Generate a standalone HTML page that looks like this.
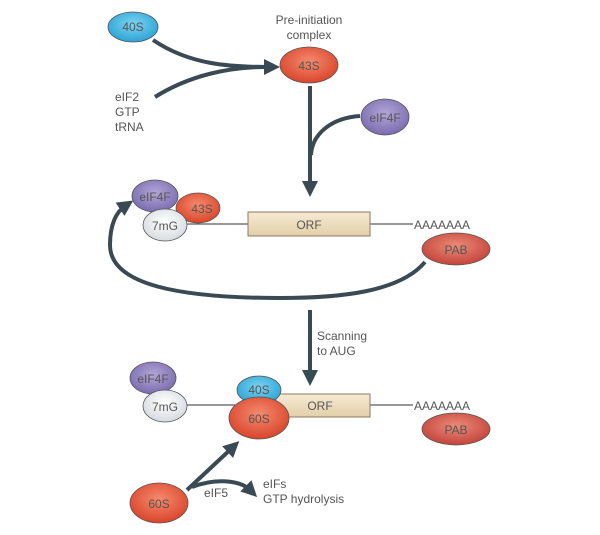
<!DOCTYPE html>
<html><head><style>body{margin:0;background:#fff}svg{display:block}text{font-family:"Liberation Sans",sans-serif;fill:#555;font-size:12px}</style></head>
<body>
<svg width="600" height="535" viewBox="0 0 600 535">
<defs>
<radialGradient id="red" cx="50%" cy="40%" r="60%"><stop offset="0" stop-color="#f58a6e"/><stop offset="1" stop-color="#d9452b"/></radialGradient>
<radialGradient id="blue" cx="50%" cy="40%" r="60%"><stop offset="0" stop-color="#7fd3ef"/><stop offset="1" stop-color="#2aa4d6"/></radialGradient>
<radialGradient id="pur" cx="50%" cy="40%" r="60%"><stop offset="0" stop-color="#b3a6d6"/><stop offset="1" stop-color="#7b6bb0"/></radialGradient>
<radialGradient id="gry" cx="50%" cy="40%" r="60%"><stop offset="0" stop-color="#ffffff"/><stop offset="1" stop-color="#d6dbe0"/></radialGradient>
<radialGradient id="pab" cx="50%" cy="40%" r="60%"><stop offset="0" stop-color="#ec8a78"/><stop offset="1" stop-color="#c3443a"/></radialGradient>
<linearGradient id="orf" x1="0" y1="0" x2="0" y2="1"><stop offset="0" stop-color="#f6ead4"/><stop offset="1" stop-color="#e3cfa9"/></linearGradient>
<marker id="ah" markerWidth="4" markerHeight="4" refX="1.5" refY="2" orient="auto" markerUnits="strokeWidth"><path d="M0,0 L4,2 L0,4 Z" fill="#3a4a55"/></marker>
</defs>
<g fill="none" stroke="#3a4a55" stroke-width="4">
<path d="M153,40 C190,65 230,67 270,67" marker-end="url(#ah)"/>
<path d="M155,97 C190,75 230,67 265,67"/>
<path d="M310,86 V187" marker-end="url(#ah)"/>
<path d="M360,116 C330,118 312,135 311,155"/>
<path d="M425,262 C400,292 340,298 280,298 C180,298 110,285 110,245 C110,225 116,212 125,206" marker-end="url(#ah)"/>
<path d="M310,310 V376" marker-end="url(#ah)"/>
<path d="M187,490 L232,448" marker-end="url(#ah)"/>
<path d="M192,487 C215,478 240,480 250,490" marker-end="url(#ah)"/>
</g>
<g stroke="#333" stroke-width="1">
<line x1="185" y1="224" x2="413" y2="224"/>
<line x1="185" y1="405" x2="413" y2="405"/>
</g>
<rect x="248" y="212" width="122" height="24" fill="url(#orf)" stroke="#8a7a60"/>
<rect x="276" y="394" width="94" height="23" fill="url(#orf)" stroke="#8a7a60"/>
<g stroke="#555" stroke-width="0.8">
<ellipse cx="133" cy="27" rx="25" ry="15" fill="url(#blue)"/>
<ellipse cx="309" cy="65" rx="29" ry="18" fill="url(#red)"/>
<ellipse cx="385" cy="117" rx="24" ry="18" fill="url(#pur)"/>
<ellipse cx="198" cy="208" rx="22" ry="15" fill="url(#red)"/>
<ellipse cx="155" cy="196" rx="23" ry="16" fill="url(#pur)"/>
<ellipse cx="165" cy="225" rx="22" ry="16" fill="url(#gry)"/>
<ellipse cx="456" cy="249" rx="34" ry="16" fill="url(#pab)"/>
<ellipse cx="153" cy="378" rx="23" ry="16" fill="url(#pur)"/>
<ellipse cx="165" cy="406" rx="22" ry="16" fill="url(#gry)"/>
<ellipse cx="259" cy="390" rx="22" ry="14" fill="url(#blue)"/>
<ellipse cx="259" cy="418" rx="30" ry="21" fill="url(#red)"/>
<ellipse cx="456" cy="429" rx="34" ry="16" fill="url(#pab)"/>
<ellipse cx="159" cy="503" rx="29" ry="20" fill="url(#red)"/>
</g>
<g text-anchor="middle">
<text x="133" y="31">40S</text>
<text x="309" y="24">Pre-initiation</text>
<text x="309" y="39">complex</text>
<text x="309" y="70">43S</text>
<text x="385" y="122">eIF4F</text>
<text x="155" y="201">eIF4F</text>
<text x="202" y="213">43S</text>
<text x="165" y="230">7mG</text>
<text x="309" y="229">ORF</text>
<text x="456" y="254">PAB</text>
<text x="153" y="383">eIF4F</text>
<text x="165" y="411">7mG</text>
<text x="259" y="394">40S</text>
<text x="259" y="423">60S</text>
<text x="320" y="410">ORF</text>
<text x="456" y="434">PAB</text>
<text x="159" y="508">60S</text>
</g>
<text x="115" y="101">eIF2</text>
<text x="115" y="116">GTP</text>
<text x="115" y="131">tRNA</text>
<text x="414" y="229">AAAAAAA</text>
<text x="414" y="410">AAAAAAA</text>
<text x="317" y="340">Scanning</text>
<text x="317" y="355">to AUG</text>
<text x="204" y="497">eIF5</text>
<text x="263" y="488">eIFs</text>
<text x="263" y="503">GTP hydrolysis</text>
</svg>
</body></html>
